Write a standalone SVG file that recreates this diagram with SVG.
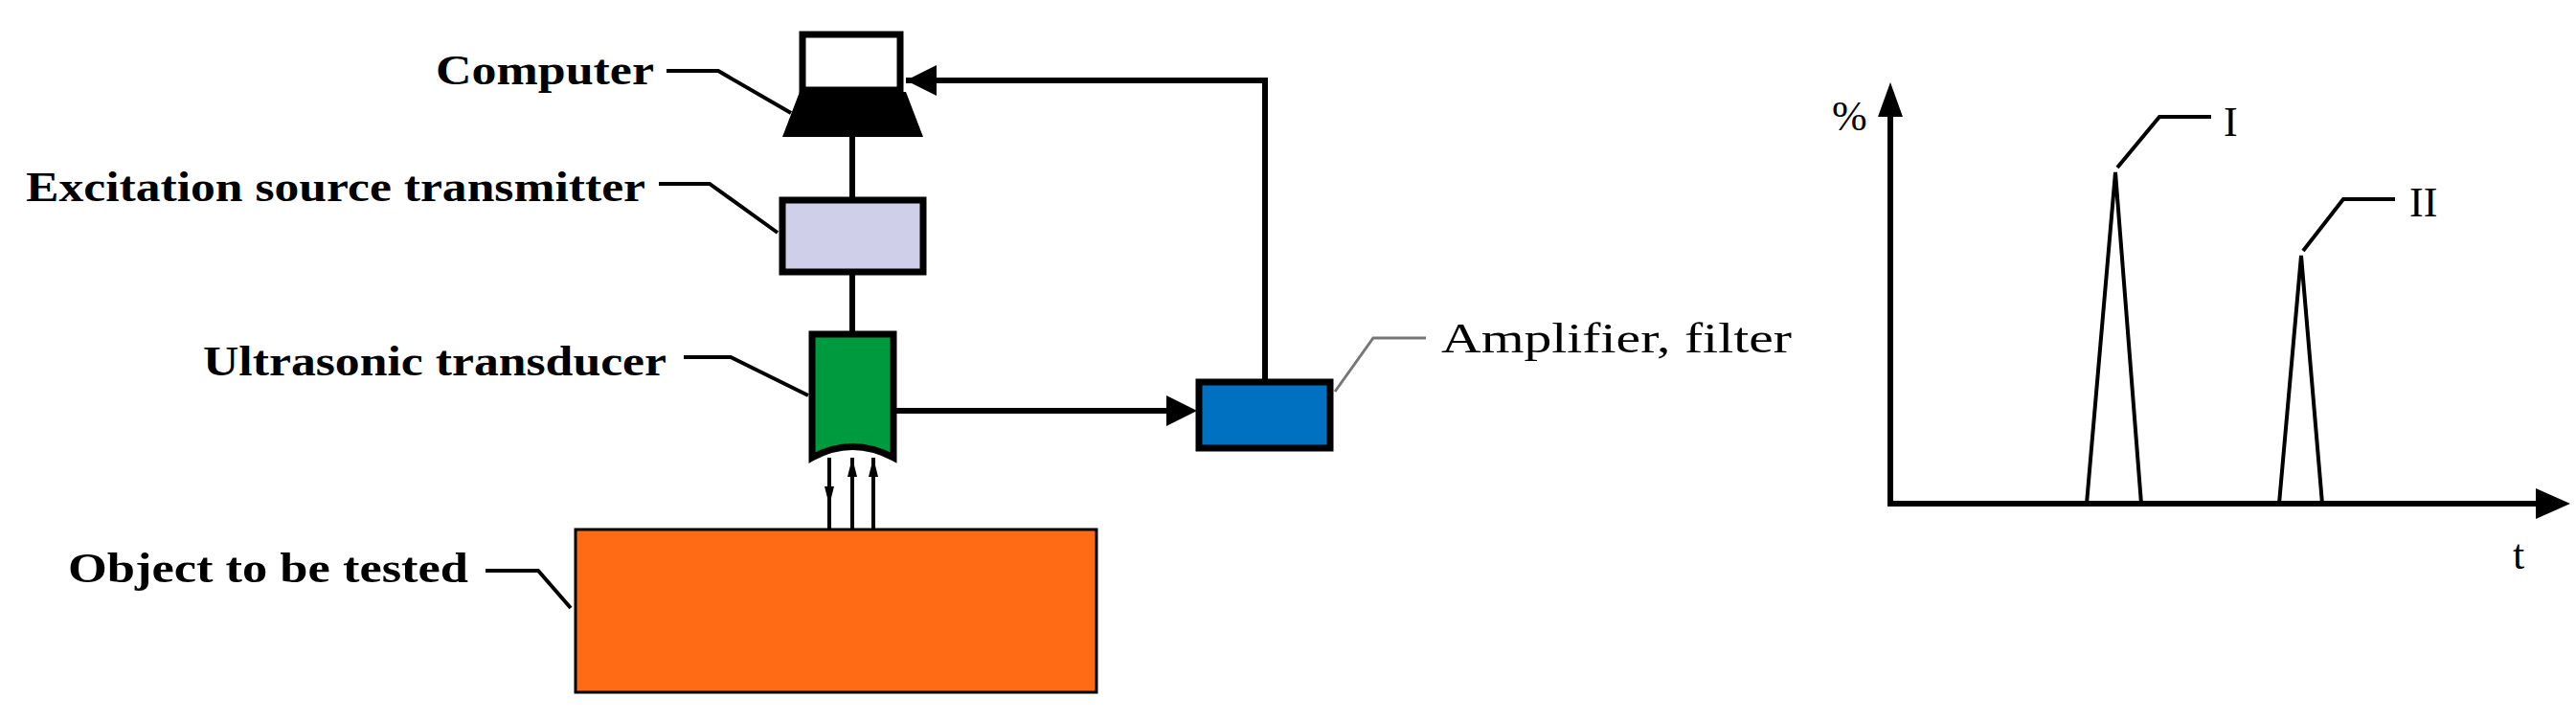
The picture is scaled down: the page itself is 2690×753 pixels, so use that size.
<svg xmlns="http://www.w3.org/2000/svg" width="2690" height="753" viewBox="0 0 2690 753">
<style>
.lbl{font-family:"Liberation Serif",serif;font-weight:bold;font-size:44px;fill:#000}
.rl{font-family:"Liberation Serif",serif;font-size:44px;fill:#000}
.ln{fill:none;stroke:#000;stroke-width:6}
.ld{fill:none;stroke:#000;stroke-width:4}
.box{stroke:#000;stroke-width:7}
</style>
<defs>
<marker id="ah" markerWidth="10" markerHeight="10" refX="9" refY="5" orient="auto" markerUnits="userSpaceOnUse" viewBox="0 0 10 10"><path d="M0,0 L10,5 L0,10 Z" fill="#000"/></marker>
</defs>
<rect width="2690" height="753" fill="#fff"/>
<g id="connectors">
<line class="ln" x1="890" y1="141" x2="890" y2="209"/>
<line class="ln" x1="890" y1="284" x2="890" y2="349"/>
<polyline class="ln" points="1321,397 1321,84 946,84"/>
<path d="M946,84 L978,68 L978,100 Z"/>
<line class="ln" x1="933" y1="429" x2="1222" y2="429"/>
<path d="M1250,429 L1218,413 L1218,445 Z"/>
<line x1="866" y1="478" x2="866" y2="552" stroke="#000" stroke-width="4"/>
<path d="M866,528 L861,508 L871,508 Z"/>
<line x1="890" y1="478" x2="890" y2="552" stroke="#000" stroke-width="4"/>
<path d="M890,478 L885,498 L895,498 Z"/>
<line x1="912" y1="478" x2="912" y2="552" stroke="#000" stroke-width="4"/>
<path d="M912,478 L907,498 L917,498 Z"/>
<polyline class="ld" points="696,74 750,74 826,118"/>
<polyline class="ld" points="688,192 741,192 812,243"/>
<polyline class="ld" points="714,373 763,373 844,413"/>
<polyline class="ld" points="507,596 562,596 596,635"/>
<polyline fill="none" stroke="#777" stroke-width="3" points="1489,353 1434,353 1394,409"/>
</g>
<g id="computer">
<rect class="box" x="838" y="36" width="102" height="58" fill="#fff"/>
<path d="M835,96 L946,96 L964,143 L817,143 Z" fill="#000"/>
<text class="lbl" x="455" y="88" textLength="228" lengthAdjust="spacingAndGlyphs">Computer</text>
</g>
<g id="excitation">
<rect class="box" x="817" y="209" width="147" height="75" fill="#d0cfe9"/>
<text class="lbl" x="27" y="210" textLength="647" lengthAdjust="spacingAndGlyphs">Excitation source transmitter</text>
</g>
<g id="transducer">
<path class="box" d="M848,349 L933,349 L933,478 Q890,455 848,478 Z" fill="#009a3e"/>
<text class="lbl" x="212" y="392" textLength="484" lengthAdjust="spacingAndGlyphs">Ultrasonic transducer</text>
</g>
<g id="amplifier">
<rect class="box" x="1252" y="399" width="137" height="69" fill="#0070c0"/>
<text class="rl" x="1505" y="368" textLength="366" lengthAdjust="spacingAndGlyphs">Amplifier, filter</text>
</g>
<g id="object">
<rect x="601" y="553" width="544" height="170" fill="#ff6a14" stroke="#000" stroke-width="3"/>
<text class="lbl" x="71" y="608" textLength="418" lengthAdjust="spacingAndGlyphs">Object to be tested</text>
</g>
<g id="chart">
<polyline class="ln" points="1974,120 1974,526 2652,526"/>
<path d="M1974,86 L1961,122 L1987,122 Z"/>
<path d="M2684,526 L2648,510 L2648,542 Z"/>
<polyline fill="none" stroke="#000" stroke-width="4" points="2179,526 2209,180 2236,526"/>
<polyline fill="none" stroke="#000" stroke-width="4" points="2380,526 2403,267 2425,526"/>
<polyline class="ld" points="2211,175 2255,122 2309,122"/>
<polyline class="ld" points="2405,262 2447,208 2501,208"/>
<text class="rl" x="1913" y="136" font-size="40">%</text>
<text class="rl" x="2322" y="142">I</text>
<text class="rl" x="2516" y="226">II</text>
<text class="rl" x="2624" y="594">t</text>
</g>
</svg>
